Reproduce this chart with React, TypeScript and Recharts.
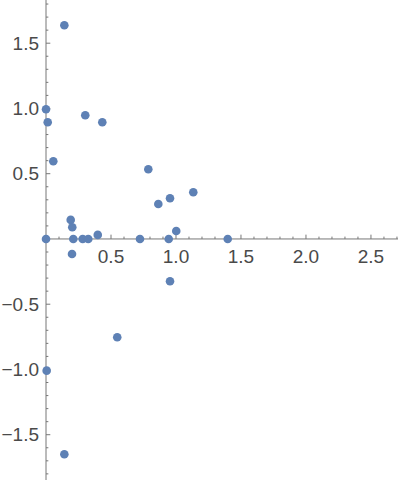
import { ScatterChart, Scatter, XAxis, YAxis, ReferenceLine, ReferenceDot } from 'recharts';

// point coordinates
const xValues = [0.141, 0, 0.013, 0.302, 0.433, 0.056, 0.787, 0.864, 0.954, 1.133, 0.19, 0.202, 0, 0.21, 0.282, 0.325, 0.398, 0.723, 0.944, 1.002, 1.398, 0.2, 0.954, 0.548, 0.005, 0.141];
const yValues = [1.637, 0.994, 0.894, 0.948, 0.894, 0.595, 0.534, 0.268, 0.312, 0.358, 0.146, 0.09, 0, 0, 0, 0, 0.031, 0, 0, 0.061, 0, -0.115, -0.324, -0.753, -1.009, -1.65];

const xTicks = [0.5, 1.0, 1.5, 2.0, 2.5];
const xTickLabels = ['0.5', '1.0', '1.5', '2.0', '2.5'];
const yTicks = [-1.5, -1.0, -0.5, 0.5, 1.0, 1.5];
const yTickLabels = ['\u22121.5', '\u22121.0', '\u22120.5', '0.5', '1.0', '1.5'];

const xDomain = [-0.354, 2.708];
const yDomain = [-1.847, 1.831];

const data = xValues.map((x, i) => ({ x, y: yValues[i] }));

// minor ticks every 0.1
function minorTicks(from: number, to: number, majors: number[]) {
  const out: number[] = [];
  for (let k = Math.round(from * 10); k <= Math.round(to * 10); k++) {
    const v = k / 10;
    if (v === 0 || majors.some((m) => Math.abs(m - v) < 1e-9)) continue;
    out.push(v);
  }
  return out;
}

const xMinor = minorTicks(0.1, 2.7, xTicks);
const yMinor = minorTicks(-1.8, 1.8, yTicks);

const axisColor = '#777';
const labelStyle = { fill: '#4a4a4a', fontSize: 19, fontFamily: 'Liberation Sans, Arial, sans-serif' };
const dotColor = '#5E81B5';

export default function App() {
  return (
    <div style={{ position: 'absolute', left: 0, top: 0 }}>
      <ScatterChart width={398} height={480} margin={{ top: 0, right: 0, bottom: 0, left: 0 }}>
        <XAxis type="number" dataKey="x" domain={xDomain} allowDataOverflow hide />
        <YAxis type="number" dataKey="y" domain={yDomain} allowDataOverflow hide />

        <ReferenceLine x={0} stroke={axisColor} strokeWidth={1} />
        <ReferenceLine segment={[{ x: 0, y: 0 }, { x: xDomain[1], y: 0 }]} stroke={axisColor} strokeWidth={1} />

        {xTicks.map((v) => (
          <ReferenceLine key={'xM' + v} segment={[{ x: v, y: 0 }, { x: v, y: 0.033 }]} stroke={axisColor} />
        ))}
        {xMinor.map((v) => (
          <ReferenceLine key={'xm' + v} segment={[{ x: v, y: 0 }, { x: v, y: 0.018 }]} stroke={axisColor} />
        ))}
        {yTicks.map((v) => (
          <ReferenceLine key={'yM' + v} segment={[{ x: 0, y: v }, { x: 0.033, y: v }]} stroke={axisColor} />
        ))}
        {yMinor.map((v) => (
          <ReferenceLine key={'ym' + v} segment={[{ x: 0, y: v }, { x: 0.018, y: v }]} stroke={axisColor} />
        ))}

        {xTicks.map((v, i) => (
          <ReferenceDot key={'xl' + v} x={v} y={0} r={0} fill="none" stroke="none"
            label={{ value: xTickLabels[i], position: 'bottom', offset: 11, ...labelStyle }} />
        ))}
        {yTicks.map((v, i) => (
          <ReferenceDot key={'yl' + v} x={0} y={v} r={0} fill="none" stroke="none"
            label={{ value: yTickLabels[i], position: 'left', offset: 7, ...labelStyle }} />
        ))}

        <Scatter
          data={data}
          isAnimationActive={false}
          shape={(p: any) => <circle cx={p.cx} cy={p.cy} r={4.3} fill={dotColor} />}
        />
      </ScatterChart>
    </div>
  );
}
